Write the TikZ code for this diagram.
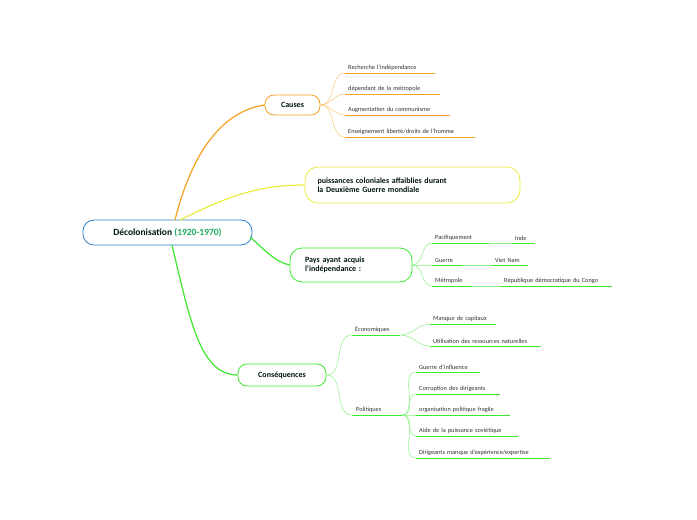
\documentclass[tikz,border=0pt]{standalone}
\usepackage{fontspec}
\setmainfont{Carlito}
\begin{document}
\begin{tikzpicture}[x=1pt,y=-1pt,
  box/.style={draw=#1,rounded corners=9pt,line width=0.8pt,font=\bfseries\fontsize{8}{9.5}\selectfont,text=black!85!teal,align=left},
  leaf/.style={anchor=south west,inner xsep=3pt,inner ysep=2pt,text width=#1,align=left,font=\fontsize{6.3}{7.5}\selectfont,text=black!80},
  ul/.style={draw=#1,line width=1pt},
  br/.style={draw=#1,line width=0.5pt}]
\useasboundingbox (0,0) rectangle (697,520);
\definecolor{cor}{HTML}{F5A020}\definecolor{cye}{HTML}{E9EC3A}\definecolor{cgr}{HTML}{3EE82E}\definecolor{cbl}{HTML}{2E7FC4}
% root
\node[box=cbl,minimum width=169pt,minimum height=25pt,rounded corners=11pt,font=\bfseries\fontsize{9.5}{11}\selectfont] (root) at (167.5,232.5) {Décolonisation \textcolor{teal!60!cgr}{(1920-1970)}};
% main nodes
\node[box=cor,minimum width=55pt,minimum height=20pt] (causes) at (292.5,105) {Causes};
\node[box=cye,minimum width=215pt,minimum height=36pt,rounded corners=13pt,text width=190pt] (ww) at (412.5,185) {puissances coloniales affaiblies durant\\la Deuxième Guerre mondiale};
\node[box=cgr,minimum width=122pt,minimum height=34pt,rounded corners=12pt,text width=92pt] (pays) at (351,265) {Pays ayant acquis\\l'indépendance :};
\node[box=cgr,minimum width=88pt,minimum height=22pt] (cons) at (282,375) {Conséquences};
\draw[line width=1.2pt,cor] (175,220) .. controls (195,140) and (230,110) .. (causes.west);
\draw[line width=1.2pt,cye] (180,220) .. controls (230,195) and (260,185) .. (ww.west);
\draw[line width=1.2pt,cgr] (250,237) .. controls (265,250) and (275,262) .. (pays.west);
\draw[line width=1.2pt,cgr] (172,245) .. controls (190,320) and (200,375) .. (cons.west);
% causes leaves
\foreach \n/\y/\w/\t in {c1/73/90/{Recherche l'indépendance},c2/94/95/{dépendant de la métropole},c3/115/105/{Augmentation du communisme},c4/137/130/{Enseignement liberté/droits de l'homme}}{
 \node[leaf=\w pt-6pt,minimum width=\w pt] (\n) at (345,\y) {\t};
 \draw[ul=cor] (\n.south west) -- (\n.south east);
 \draw[br=cor!60] (causes.east) to[out=0,in=180] (\n.south west);}
% pays leaves
\foreach \n/\y/\w/\t/\m/\mx/\mw/\mt in {p1/243/57/Pacifiquement/q1/512/23/Inde,p2/265/30/Guerre/q2/492/36/Viet Nam,p3/286/40/Métropole/q3/501/111/{République démocratique du Congo}}{
 \node[leaf=\w pt-6pt,minimum width=\w pt] (\n) at (432,\y) {\t};
 \draw[ul=cgr] (\n.south west) -- (\n.south east);
 \draw[br=cgr!60] (pays.east) to[out=0,in=180] (\n.south west);
 \node[leaf=\mw pt-6pt,minimum width=\mw pt] (\m) at (\mx,\y) {\mt};
 \draw[ul=cgr] (\m.south west) -- (\m.south east);
 \draw[br=cgr!60] (\n.south east) -- (\m.south west);}
% consequences
\node[leaf=42pt,minimum width=48pt] (eco) at (352,335) {Économiques};
\node[leaf=42pt,minimum width=50pt] (pol) at (352,415) {Politiques};
\foreach \n in {eco,pol}{\draw[ul=cgr] (\n.south west) -- (\n.south east);
 \draw[br=cgr!60] (cons.east) to[out=0,in=180] (\n.south west);}
\foreach \n/\y/\w/\t in {e1/324/66/{Manque de capitaux},e2/346/111/{Utilisation des ressources naturelles}}{
 \node[leaf=\w pt-6pt,minimum width=\w pt] (\n) at (430,\y) {\t};
 \draw[ul=cgr] (\n.south west) -- (\n.south east);
 \draw[br=cgr!60] (eco.south east) to[out=0,in=180] (\n.south west);}
\foreach \n/\y/\w/\t in {f1/372/64/{Guerre d'influence},f2/394/84/{Corruption des dirigeants},f3/415/94/{organisation politique fragile},f4/436/102/{Aide de la puissance soviétique},f5/458/134/{Dirigeants manque d'expérience/expertise}}{
 \node[leaf=\w pt-6pt,minimum width=\w pt] (\n) at (416,\y) {\t};
 \draw[ul=cgr] (\n.south west) -- (\n.south east);
 \draw[br=cgr!60] (pol.south east) to[out=0,in=180] (\n.south west);}
\end{tikzpicture}
\end{document}
